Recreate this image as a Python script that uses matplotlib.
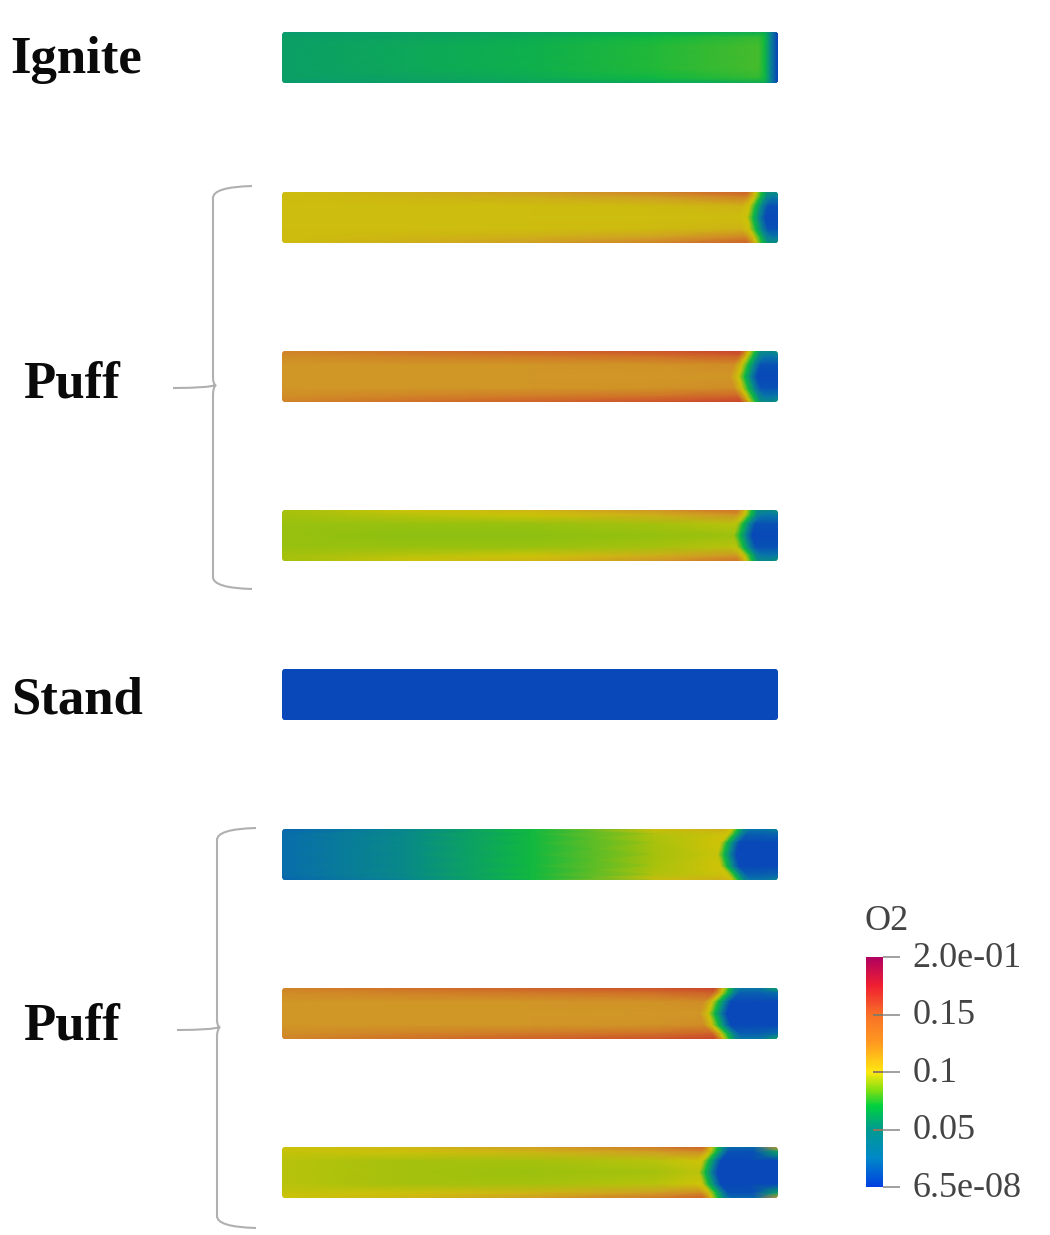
import numpy as np
import matplotlib
import matplotlib.pyplot as plt
from matplotlib.cm import ScalarMappable
from matplotlib.colors import LinearSegmentedColormap, Normalize
from matplotlib.patches import FancyBboxPatch, PathPatch
from matplotlib.path import Path
from matplotlib.transforms import ScaledTranslation

matplotlib.use('Agg')

## O2: rows go wall -> near wall -> mid -> core,
## columns are the stations along the tube up to the burning zone
ignite_o2 = [[.055, .058, .060, .062, .064],
             [.058, .060, .064, .070, .074],
             [.058, .062, .066, .072, .076],
             [.058, .062, .066, .072, .076]]
puff1_o2 = [[.105, .115, .125, .140, .155],
            [.105, .110, .115, .125, .140],
            [.105, .105, .105, .107, .112],
            [.105, .105, .105, .105, .105]]
puff2_o2 = [[.140, .150, .155, .160, .165],
            [.135, .140, .145, .150, .155],
            [.130, .130, .130, .132, .135],
            [.130, .130, .130, .130, .130]]
puff3_o2 = [[.090, .100, .110, .130, .150],
            [.090, .095, .100, .115, .130],
            [.087, .087, .087, .090, .095],
            [.087, .085, .085, .086, .088]]
stand_o2 = [[0, 0, 0, 0, 0],
            [0, 0, 0, 0, 0],
            [0, 0, 0, 0, 0],
            [0, 0, 0, 0, 0]]
puff4_o2 = [[.015, .040, .070, .105, .115],
            [.020, .045, .070, .093, .103],
            [.020, .045, .070, .091, .100],
            [.020, .045, .070, .090, .098]]
puff5_o2 = [[.140, .150, .155, .160, .165],
            [.135, .140, .145, .150, .155],
            [.130, .130, .130, .132, .135],
            [.130, .130, .130, .130, .130]]
puff6_o2 = [[.100, .110, .125, .145, .155],
            [.098, .102, .110, .125, .135],
            [.095, .090, .090, .095, .100],
            [.095, .090, .088, .090, .095]]

bar_fields = [ignite_o2, puff1_o2, puff2_o2, puff3_o2, stand_o2, puff4_o2, puff5_o2, puff6_o2]

# where the burning zone starts per row, the O2 left inside it, and at the far end
bar_fronts = [[.973, .973, .973, .973],
              [.968, .965, .955, .950],
              [.955, .950, .940, .933],
              [.948, .945, .930, .923],
              [.950, .950, .950, .950],
              [.920, .913, .897, .891],
              [.903, .898, .880, .872],
              [.879, .875, .860, .853]]
bar_tips = [[0, 0, 0, 0],
            [.050, .030, .005, 0],
            [.045, .025, .005, 0],
            [.045, .025, .005, 0],
            [0, 0, 0, 0],
            [.025, .012, 0, 0],
            [.028, .012, 0, 0],
            [.018, .004, 0, 0]]
bar_ends = [[0, 0, 0, 0],
            [.055, .030, .005, 0],
            [.055, .030, .005, 0],
            [.055, .030, .005, 0],
            [0, 0, 0, 0],
            [.040, .015, 0, 0],
            [.060, .020, 0, 0],
            [.130, .060, 0, 0]]

x_stations = [0, .25, .5, .75]
y_rows = [1, .8, .45, 0]
front_o2 = [.10, .07, .04]

group_labels = ['Ignite', 'Puff', 'Stand', 'Puff']
cbar_title = 'O2'
cbar_ticks = [0, .05, .1, .15, .2]
cbar_labels = ['6.5e-08', '0.05', '0.1', '0.15', '2.0e-01']

# colour scale: legend is brighter than the shaded tubes
cbar_colors = [(0, '#0040e0'), (.025, '#0088c8'), (.05, '#009a90'), (.07, '#00d040'), (.085, '#88e010'),
               (.1, '#ffe810'), (.125, '#ff9a20'), (.15, '#f87028'), (.175, '#f02030'), (.2, '#b00060')]
tube_colors = [(0, '#0848b8'), (.025, '#0878a8'), (.05, '#088f80'), (.07, '#10b840'), (.085, '#90c010'),
               (.1, '#ccc408'), (.125, '#d0a025'), (.15, '#d07028'), (.175, '#c82830'), (.2, '#900050')]

cbar_cmap = LinearSegmentedColormap.from_list('o2_bar', [(v / .2, c) for v, c in cbar_colors])
tube_cmap = LinearSegmentedColormap.from_list('o2_tube', [(v / .2, c) for v, c in tube_colors])
norm = Normalize(0, .2)

W, H = 1050, 1235
fig = plt.figure(figsize=(W / 100, H / 100), dpi=100)

## Labels and braces, placed in pixels
overlay = fig.add_axes([0, 0, 1, 1], zorder=-1)
overlay.set_xlim(0, W)
overlay.set_ylim(H, 0)
overlay.axis('off')


def px_axes(left, top, right, bottom):
    return fig.add_axes([left / W, 1 - bottom / H, (right - left) / W, (bottom - top) / H])


def draw_tube(top, field, front, tip, end):
    ax = px_axes(282, top, 778, top + 51)
    xs, vals = [], []
    for row, f, t, e in zip(field, front, tip, end):
        blue = f + .025
        xs.append(x_stations + [f - .03, f - .012, f, f + .012, blue, (blue + 1) / 2, 1])
        last = row[-1]
        vals.append(list(row) + [min(last, front_o2[0]), min(last, front_o2[1]),
                                 max(min(last, front_o2[2]), t), t, t, e])
    # mirror the wall->core rows over the centre line
    xs = np.array(xs + xs[-2::-1])
    vals = np.array(vals + vals[-2::-1])
    ys = np.array(y_rows + [-y for y in y_rows[-2::-1]])
    ys = np.repeat(ys[:, None], xs.shape[1], axis=1)
    mesh = ax.pcolormesh(xs, ys, vals, cmap=tube_cmap, norm=norm, shading='gouraud')
    ax.set_xlim(0, 1)
    ax.set_ylim(-1, 1)
    ax.axis('off')
    # tube ends are slightly rounded
    outline = FancyBboxPatch((282, top), 496, 51, boxstyle='round,pad=0,rounding_size=3',
                             transform=overlay.transData, fc='none', ec='none')
    mesh.set_clip_path(outline)


tube_tops = [32, 192, 351, 510, 669, 829, 988, 1147]
for top, field, front, tip, end in zip(tube_tops, bar_fields, bar_fronts, bar_tips, bar_ends):
    draw_tube(top, field, front, tip, end)

label_font = dict(family='Liberation Serif', weight='bold', size=38, color='#0a0a0a', va='center')
overlay.text(10, 60, group_labels[0], **label_font)
overlay.text(23, 385, group_labels[1], **label_font)
overlay.text(11, 701, group_labels[2], **label_font)
overlay.text(23, 1027, group_labels[3], **label_font)


def draw_brace(spine, tip, left, top, mid, bottom):
    codes = [Path.MOVETO, Path.CURVE3, Path.CURVE3, Path.LINETO, Path.CURVE3, Path.CURVE3,
             Path.LINETO, Path.CURVE3, Path.CURVE3, Path.MOVETO, Path.CURVE3, Path.CURVE3,
             Path.LINETO, Path.CURVE3, Path.CURVE3]
    verts = [(tip, top), (spine, top + 1), (spine, top + 12),
             (spine, mid - 10), (spine, mid - 2), (spine + 3, mid - 2),
             (spine + 3, mid - 2), (spine - 4, mid + 1), (left, mid + 1),
             (spine + 3, mid - 2), (spine, mid), (spine, mid + 8),
             (spine, bottom - 12), (spine, bottom - 1), (tip, bottom)]
    overlay.add_patch(PathPatch(Path(verts, codes), fc='none', ec='#b0b0b0', lw=1.5))


draw_brace(213, 252, 173, 186, 387, 589)
draw_brace(217, 256, 177, 828, 1029, 1228)

## Colour legend
cax = px_axes(866, 957, 883, 1187)
cbar = fig.colorbar(ScalarMappable(norm=norm, cmap=cbar_cmap), cax=cax)
cbar.outline.set_visible(False)
cbar.set_ticks(cbar_ticks)
cbar.set_ticklabels(cbar_labels)
cax.tick_params(length=12, width=1.4, color='#a0a0a0', pad=9, labelsize=26, labelcolor='#444444')
shift_up = ScaledTranslation(0, 2 / 72, fig.dpi_scale_trans)
for label in cax.get_yticklabels():
    label.set_family('Liberation Serif')
    label.set_transform(label.get_transform() + shift_up)
cax.hlines(cbar_ticks[1:-1], .4, 1, color='#8a7a60', lw=1.4)
overlay.text(864, 921, cbar_title, family='Liberation Serif', size=26, color='#444444', va='center')

fig.savefig('out.png', dpi=100)
plt.close()
